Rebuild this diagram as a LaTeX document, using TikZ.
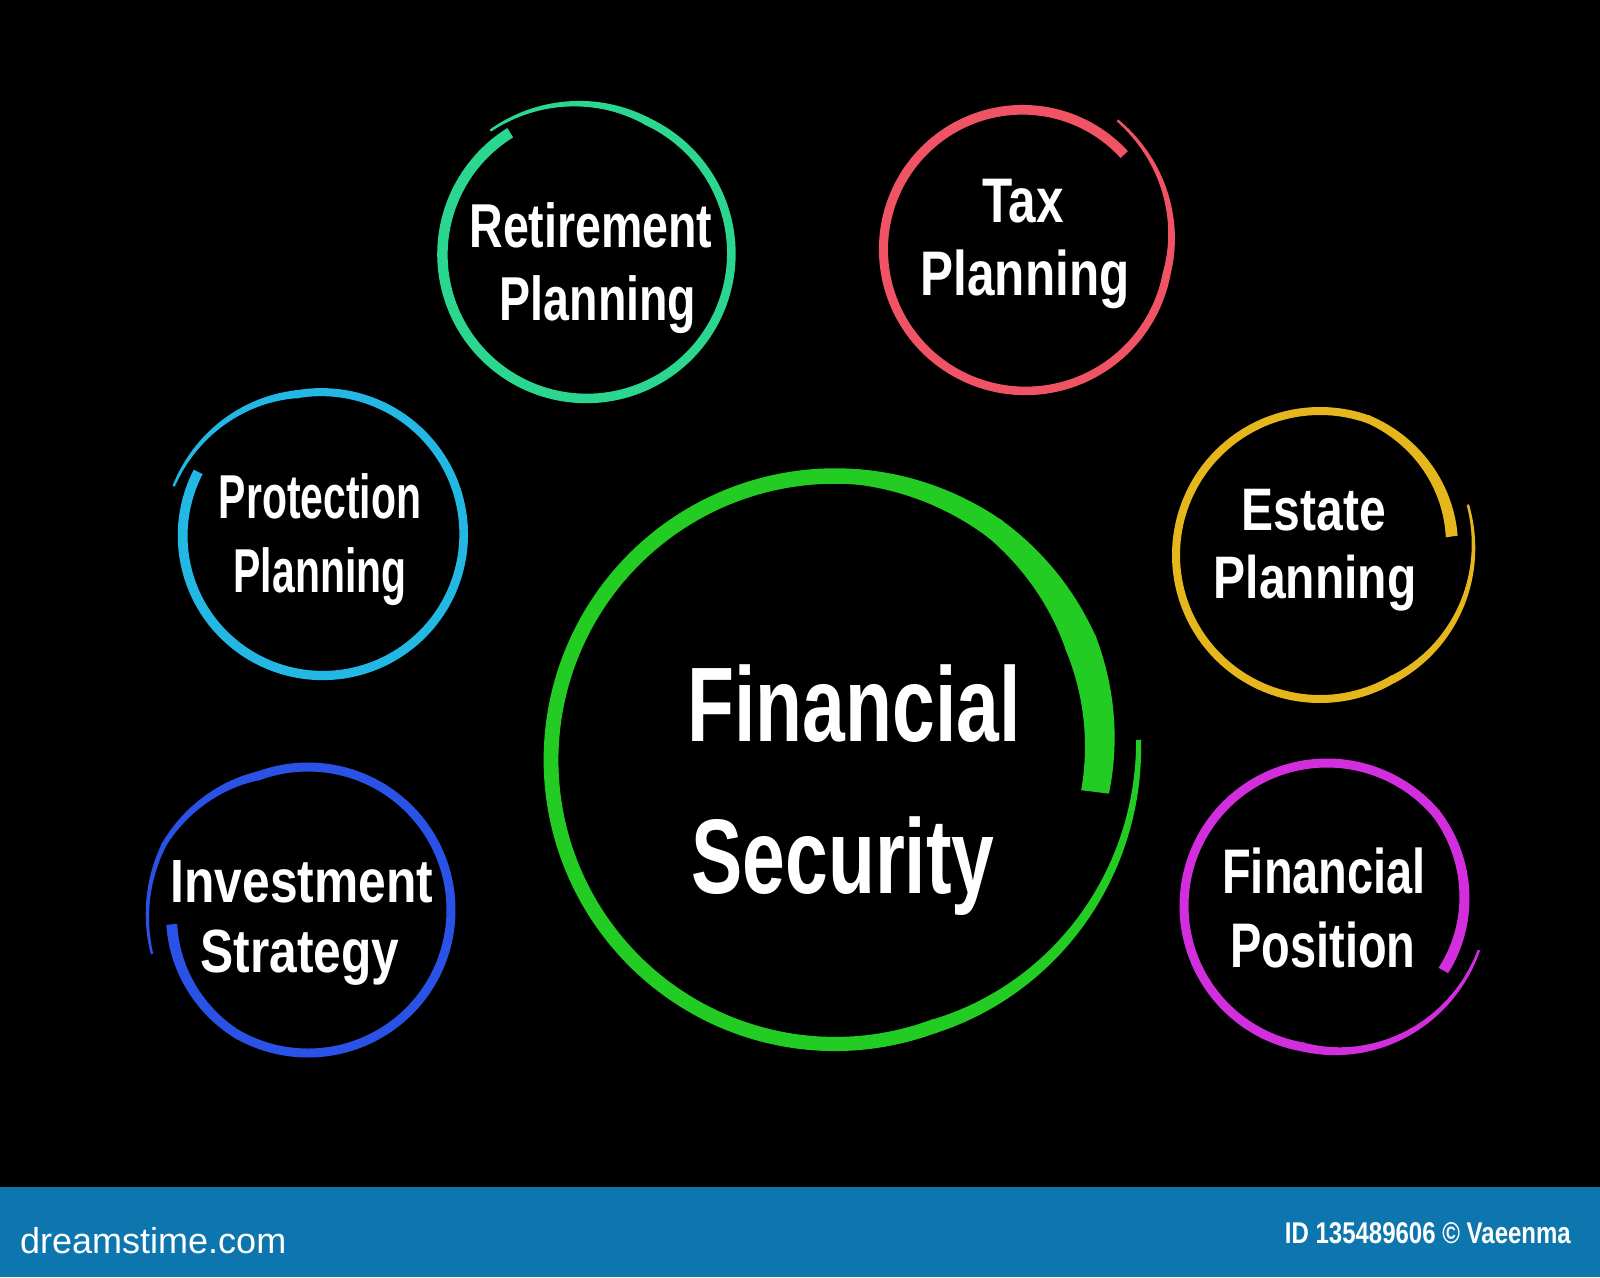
\documentclass[tikz,border=0pt]{standalone}
\usepackage{fontspec}
\usepackage{graphicx}
\setmainfont{Liberation Sans}
\definecolor{retc}{RGB}{43,214,143}
\definecolor{taxc}{RGB}{240,84,100}
\definecolor{protc}{RGB}{34,184,227}
\definecolor{estc}{RGB}{230,183,28}
\definecolor{invc}{RGB}{42,82,230}
\definecolor{posc}{RGB}{210,46,221}
\definecolor{secc}{RGB}{34,204,34}
\definecolor{barc}{RGB}{14,118,174}
% brush stroke: color, cx, cy, t0, t1, r0, r1, w0, w1 (drawn slightly past t1 to hide seams)
\newcommand\brush[9]{%
  \begin{scope}[declare function={bfrac(\x)=((\x)-(#4))/((#5)-(#4)); bradius(\x)=(#6)+((#7)-(#6))*bfrac(\x); bwidth(\x)=(#8)+((#9)-(#8))*bfrac(\x);}]
  \pgfmathsetmacro\bend{#5+0.8}
  \fill[#1] plot[domain=#4:\bend,samples=150] ({#2+(bradius(\x)+bwidth(\x)/2)*cos(\x)},{#3-(bradius(\x)+bwidth(\x)/2)*sin(\x)})
     -- plot[domain=\bend:#4,samples=150] ({#2+(bradius(\x)-bwidth(\x)/2)*cos(\x)},{#3-(bradius(\x)-bwidth(\x)/2)*sin(\x)}) -- cycle;
  \end{scope}}
\newcommand\lbl[3]{\fontsize{#1}{#1}\selectfont\scalebox{#2}[1]{#3}}
\begin{document}
\begin{tikzpicture}[x=1pt,y=-1pt,
  lab/.style={text=white,font=\bfseries,inner sep=0pt,anchor=base}]
\useasboundingbox (0,0) rectangle (1600,1277);
\fill[black] (0,0) rectangle (1600,1277);
% bottom bar
\fill[barc] (0,1187) rectangle (1600,1277);
\node[text=white,inner sep=0pt,anchor=base west] (brand) at (20,1253) {\fontsize{36}{36}\selectfont dreamstime.com};
\node[text=white,inner sep=0pt,anchor=base east,font=\bfseries] (credit) at (1571,1243) {\lbl{30}{0.8}{ID 135489606 © Vaeenma}};

% Retirement Planning
\brush{retc}{586}{254}{122}{425}{143}{146}{11}{8}
\brush{retc}{586}{254}{425}{487}{146}{156}{8}{2.5}
\node[lab] (ret1) at (591,247) {\lbl{62}{0.75}{Retirement}};
\node[lab] (ret2) at (598,320) {\lbl{62}{0.75}{Planning}};

% Tax Planning
\brush{taxc}{1024}{248}{43}{350}{137}{145}{10}{8}
\brush{taxc}{1024}{248}{350}{413}{145}{158}{8}{2.5}
\node[lab] (tax1) at (1023,222) {\lbl{63}{0.785}{Tax}};
\node[lab] (tax2) at (1025,295) {\lbl{63}{0.785}{Planning}};

% Protection Planning
\brush{protc}{322}{535}{153}{460}{139}{143}{10}{8}
\brush{protc}{322}{535}{460}{521}{143}{156}{8}{2.5}
\node[lab] (pro1) at (320,518) {\lbl{62}{0.66}{Protection}};
\node[lab] (pro2) at (320,592) {\lbl{62}{0.66}{Planning}};

% Estate Planning
\brush{estc}{1320}{555}{8}{70}{133}{144}{12}{8}
\brush{estc}{1320}{555}{70}{300}{144}{144}{8}{8}
\brush{estc}{1320}{555}{300}{378}{144}{156}{8}{2.5}
\node[lab] (est1) at (1314,530) {\lbl{60}{0.8}{Estate}};
\node[lab] (est2) at (1315,598) {\lbl{60}{0.8}{Planning}};

% Investment Strategy
\brush{invc}{308}{910}{186}{240}{137}{143}{11}{9}
\brush{invc}{308}{910}{240}{470}{143}{143}{9}{9}
\brush{invc}{308}{910}{470}{515}{143}{158}{9}{5}
\brush{invc}{308}{910}{515}{555}{158}{162}{5}{2.5}
\node[lab] (inv1) at (302,902) {\lbl{61}{0.815}{Investment}};
\node[lab] (inv2) at (300,972) {\lbl{61}{0.815}{Strategy}};

% Financial Position
\brush{posc}{1327}{906}{-29}{40}{133}{143}{11}{9}
\brush{posc}{1327}{906}{40}{260}{143}{143}{9}{9}
\brush{posc}{1327}{906}{260}{343}{143}{158}{9}{2.5}
\node[lab] (pos1) at (1324,893) {\lbl{63}{0.745}{Financial}};
\node[lab] (pos2) at (1323,967) {\lbl{63}{0.745}{Position}};

% Financial Security
\brush{secc}{835}{760}{-7}{25}{262}{272}{28}{33}
\brush{secc}{835}{760}{25}{55}{272}{281}{33}{22}
\brush{secc}{835}{760}{55}{85}{281}{284}{22}{15.5}
\brush{secc}{835}{760}{85}{290}{284}{284}{15.5}{14}
\brush{secc}{835}{760}{290}{363}{284}{304}{14}{5}
\node[lab] (sec1) at (854,741) {\lbl{106}{0.725}{Financial}};
\node[lab] (sec2) at (843,893) {\lbl{106}{0.725}{Security}};
\end{tikzpicture}
\end{document}
